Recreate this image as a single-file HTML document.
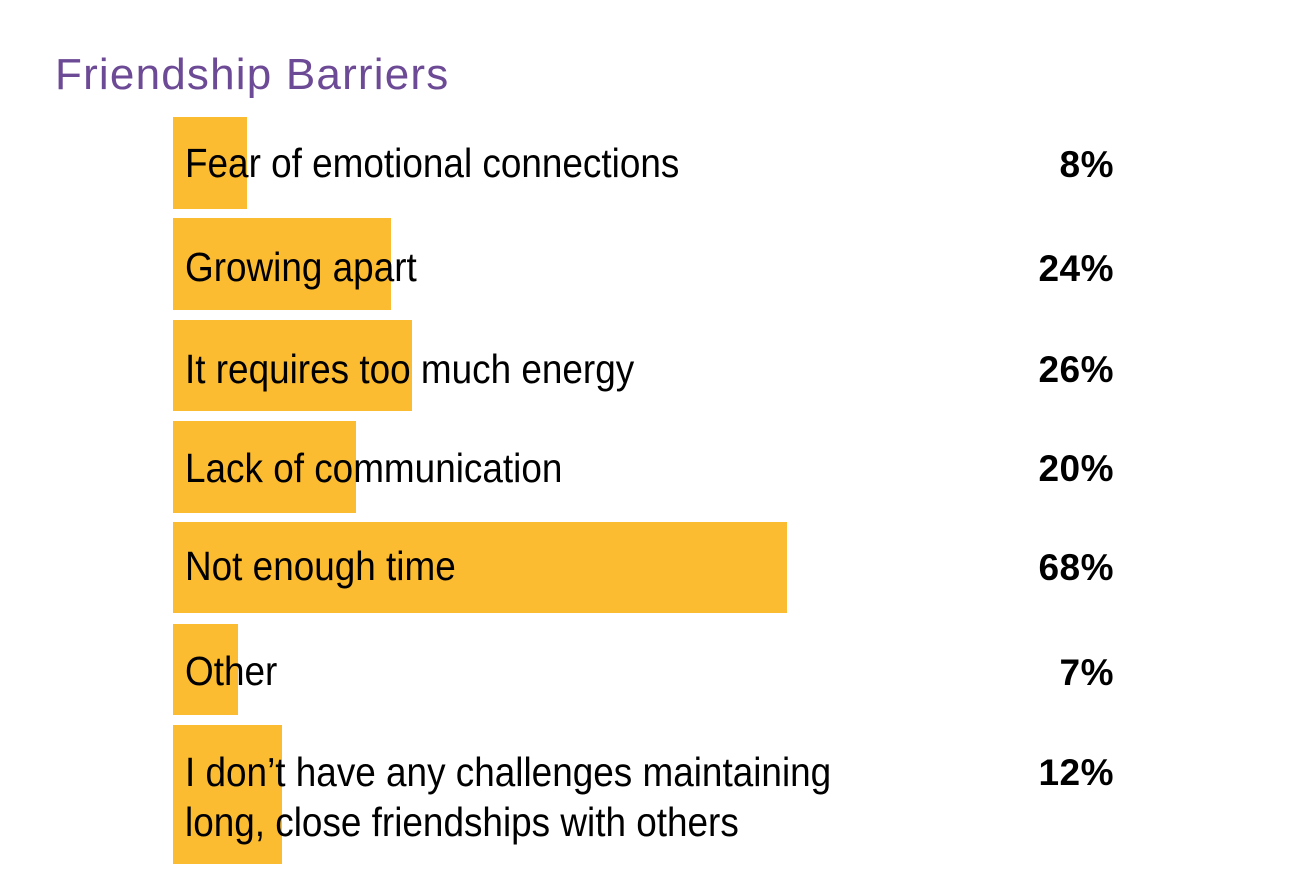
<!DOCTYPE html>
<html><head><meta charset="utf-8"><style>
html,body{margin:0;padding:0;background:#fff;}
body{width:1290px;height:878px;position:relative;overflow:hidden;font-family:"Liberation Sans",sans-serif;}
.title{position:absolute;left:55px;top:50px;font-size:44px;color:#6d4a95;letter-spacing:1.2px;}
.bar{position:absolute;left:173px;background:#fcbc31;}
.lbl{position:absolute;left:185px;font-size:41px;color:#000;transform:scaleX(0.9);transform-origin:0 0;white-space:nowrap;line-height:50px;}
.pct{position:absolute;right:176px;font-size:37px;font-weight:bold;color:#000;line-height:40px;letter-spacing:0.5px;}
</style></head><body>
<div class="title">Friendship Barriers</div>

<div class="bar" style="top:117px;width:74px;height:92px"></div>
<div class="bar" style="top:218px;width:218px;height:92px"></div>
<div class="bar" style="top:320px;width:239px;height:91px"></div>
<div class="bar" style="top:421px;width:183px;height:92px"></div>
<div class="bar" style="top:522px;width:614px;height:91px"></div>
<div class="bar" style="top:624px;width:65px;height:91px"></div>
<div class="bar" style="top:725px;width:109px;height:139px"></div>

<div class="lbl" style="top:138px">Fear of emotional connections</div>
<div class="lbl" style="top:242px">Growing apart</div>
<div class="lbl" style="top:344px">It requires too much energy</div>
<div class="lbl" style="top:443px">Lack of communication</div>
<div class="lbl" style="top:541px">Not enough time</div>
<div class="lbl" style="top:646px">Other</div>
<div class="lbl" style="top:747px">I don’t have any challenges maintaining<br>long, close friendships with others</div>

<div class="pct" style="top:145px">8%</div>
<div class="pct" style="top:249px">24%</div>
<div class="pct" style="top:350px">26%</div>
<div class="pct" style="top:449px">20%</div>
<div class="pct" style="top:548px">68%</div>
<div class="pct" style="top:653px">7%</div>
<div class="pct" style="top:753px">12%</div>
</body></html>
